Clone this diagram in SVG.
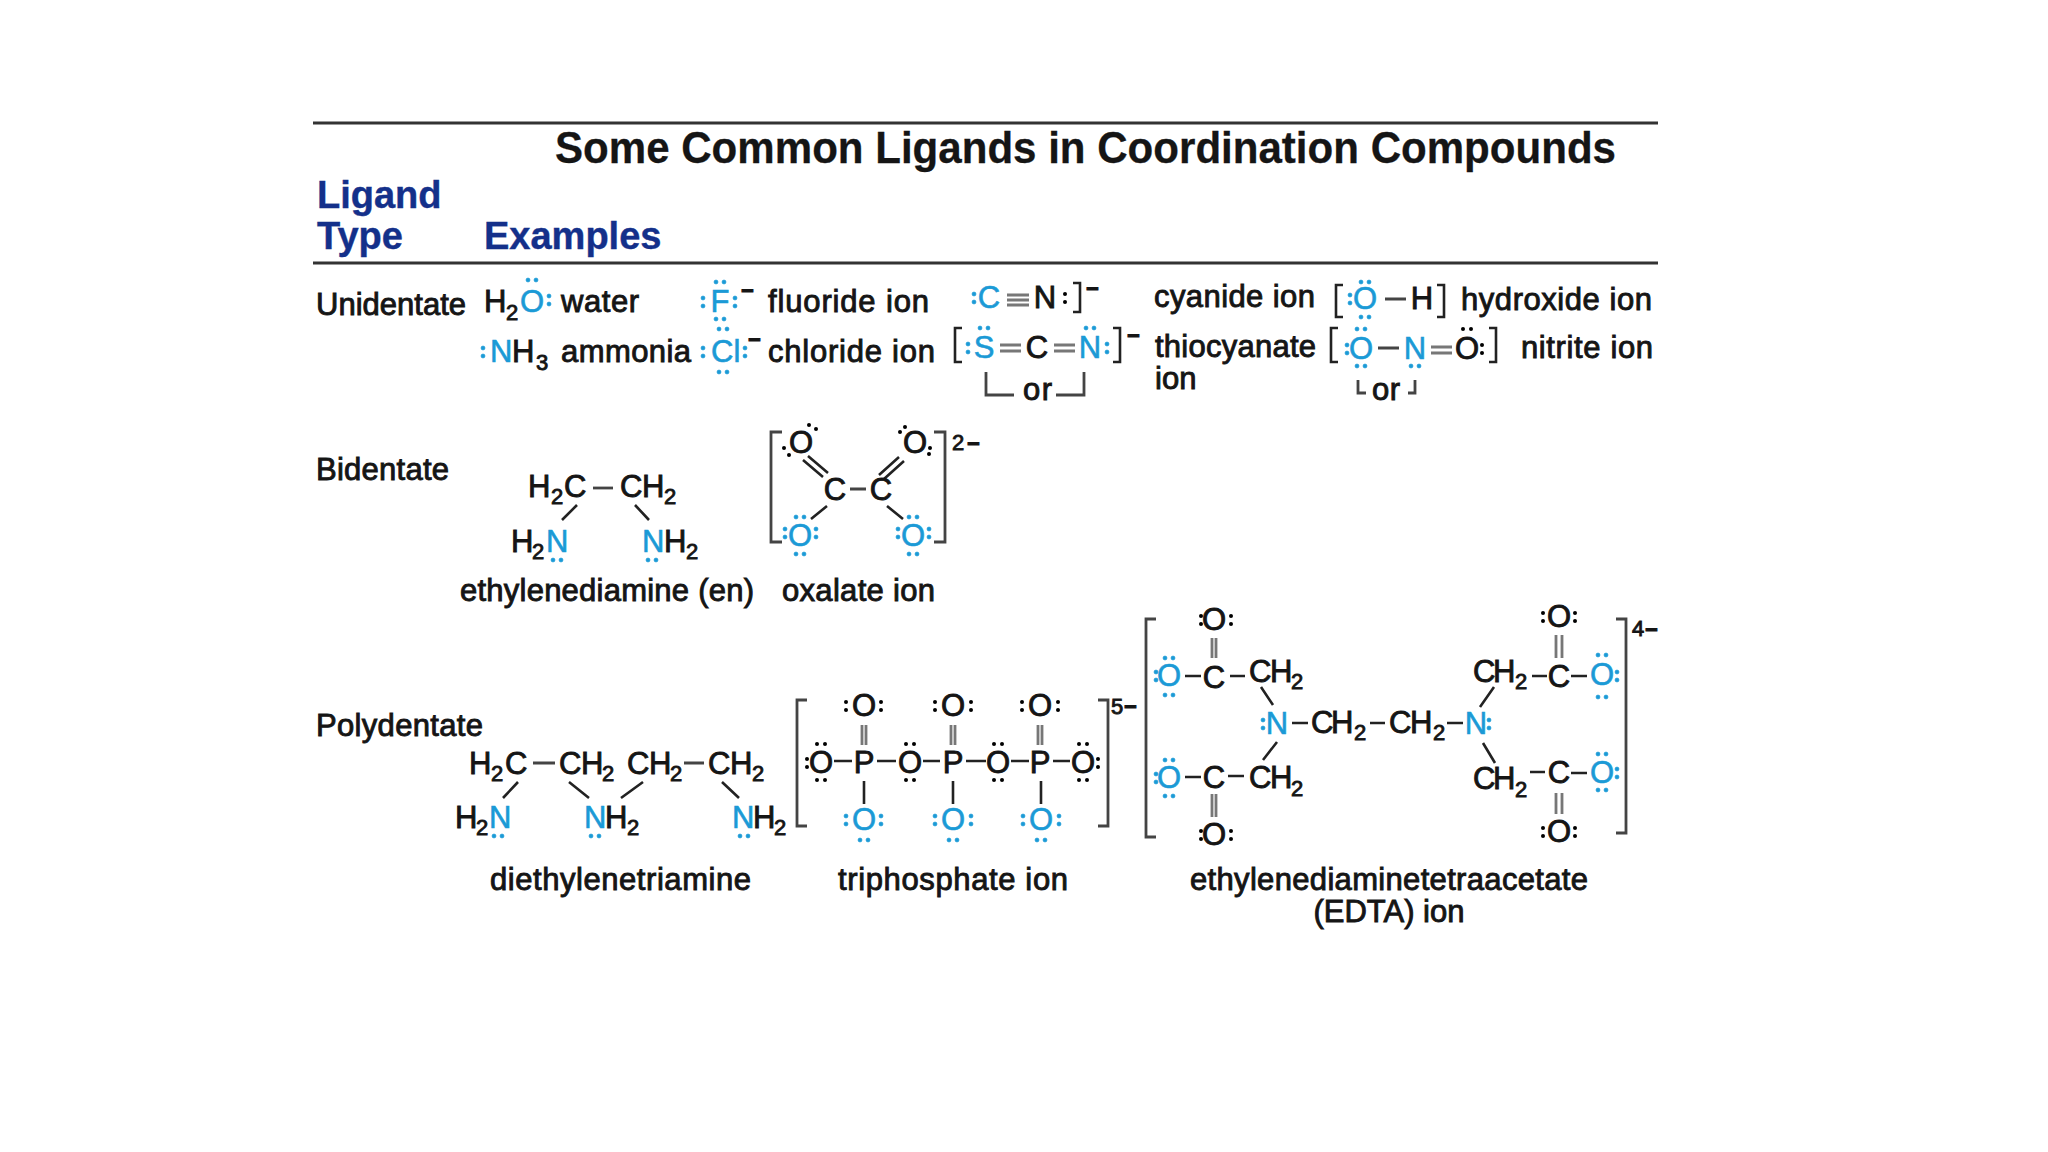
<svg xmlns="http://www.w3.org/2000/svg" width="2048" height="1152" viewBox="0 0 2048 1152">
<style>
text{font-family:"Liberation Sans",Arial,sans-serif;font-size:31px;fill:#151515;stroke:#151515;stroke-width:.9}
.b{fill:#1b9ad6;stroke:#1b9ad6;stroke-width:.6}
.s{font-size:22px}
.n{font-size:22px;font-weight:bold}
.m{text-anchor:middle}
.h{font-weight:bold;fill:#14308a;stroke:#14308a;font-size:38px;stroke-width:.4}
.tt{font-weight:bold;font-size:45px;stroke-width:.3}
.r{fill:none;stroke:#333;stroke-width:3}
.l{fill:none;stroke:#222;stroke-width:2.6}
.g{fill:none;stroke:#777;stroke-width:2.8}
.k{fill:none;stroke:#444;stroke-width:2.8}
</style>
<defs>
<g id="hp"><circle cx="-4" r="2"/><circle cx="4" r="2"/></g>
<g id="vp"><circle cy="-4" r="2"/><circle cy="4" r="2"/></g>
</defs>
<rect width="2048" height="1152" fill="#fff"/>

<g id="connectors">
<path class="r" d="M313 123H1658M313 263H1658"/>
<!-- unidentate -->
<path class="g" d="M1007 295H1029M1007 300H1029M1007 305H1029"/>
<path class="k" d="M1385 299H1406M1378 348H1399"/>
<path class="g" d="M1000 345H1021M1000 351H1021M1054 345H1075M1054 351H1075M1431 347H1452M1431 353H1452"/>
<path class="k" d="M986 372V395H1014M1056 395H1084V372M1358 380V393H1366M1408 393H1415V380"/>
<path class="l" d="M1073 283H1080V312H1073M1343 285H1336V317H1343M1437 285H1444V317H1437M962 328H955V362H962M1113 328H1120V362H1113M1338 328H1331V362H1338M1489 328H1496V362H1489"/>
<!-- en -->
<path class="k" d="M593 488H613"/>
<path class="l" d="M577 505L562 520M635 505L649 520"/>
<!-- oxalate -->
<path class="k" d="M782 432H771V542H782M934 432H945V542H934M850 489H866"/>
<path class="l" d="M808 456L828 473M803 460L823 477M899 457L879 475M904 461L884 479M827 506L811 519M887 506L903 519"/>
<!-- diethylenetriamine -->
<path class="k" d="M533 763H555M684 763H704"/>
<path class="l" d="M518 782L503 798M569 782L589 798M643 782L621 798M722 782L739 798"/>
<!-- triphosphate -->
<path class="k" d="M807 700H797V826H807M1098 700H1108V826H1098"/>
<path class="g" d="M862 725V745M866 725V745M951 725V745M955 725V745M1038 725V745M1042 725V745"/>
<path class="l" d="M834 761H852M877 761H896M923 761H940M966 761H986M1011 761H1029M1053 761H1070M864 781V804M953 781V804M1041 781V804"/>
<!-- EDTA -->
<path class="k" d="M1156 619H1146V837H1156M1616 619H1626V833H1616"/>
<path class="g" d="M1212 638V658M1216 638V658M1212 794V817M1216 794V817M1556 635V658M1562 635V658M1556 793V814M1562 793V814"/>
<path class="l" d="M1185 676H1201M1230 676H1245M1261 687L1273 705M1292 723H1308M1370 723H1385M1447 723H1463M1277 742L1263 760M1185 777H1201M1228 776H1244M1532 676H1547M1571 676H1587M1494 687L1480 707M1483 743L1495 763M1530 772H1545M1571 773H1587"/>
</g>

<g id="title">
<text class="tt" x="555" y="163" textLength="1061" lengthAdjust="spacingAndGlyphs">Some Common Ligands in Coordination Compounds</text>
<text class="h" x="317" y="208">Ligand</text>
<text class="h" x="317" y="249">Type</text>
<text class="h" x="484" y="249">Examples</text>
</g>

<g id="unidentate">
<text x="316" y="315" textLength="150">Unidentate</text>
<text x="484" y="312">H</text><text class="s" x="506" y="320">2</text>
<text class="b m" x="532" y="312">O</text><use href="#hp" x="532" y="280" class="b"/><use href="#vp" x="549" y="300" class="b"/>
<text x="561" y="312" textLength="78">water</text>
<text class="b m" x="720" y="312">F</text><use href="#hp" x="720" y="282" class="b"/><use href="#hp" x="720" y="319" class="b"/><use href="#vp" x="703" y="302" class="b"/><use href="#vp" x="735" y="302" class="b"/>
<text class="n" x="741" y="298">−</text>
<text x="768" y="312" textLength="161">fluoride ion</text>

<use href="#vp" x="974" y="298" class="b"/><text class="b m" x="989" y="308">C</text>
<text class="m" x="1045" y="308">N</text><use href="#vp" x="1065" y="298"/>
<text class="n" x="1086" y="296">−</text>
<text x="1154" y="307" textLength="161">cyanide ion</text>

<use href="#vp" x="1350" y="299" class="b"/><text class="b m" x="1365" y="309">O</text><use href="#hp" x="1365" y="282" class="b"/><use href="#hp" x="1365" y="317" class="b"/>
<text class="m" x="1422" y="309">H</text>
<text x="1461" y="310" textLength="191">hydroxide ion</text>

<use href="#vp" x="483" y="352" class="b"/><text class="b" x="490" y="362">N</text><text x="512" y="362">H</text><text class="s" x="536" y="370">3</text>
<text x="561" y="362" textLength="130">ammonia</text>
<text class="b" x="711" y="362">Cl</text><use href="#hp" x="723" y="329" class="b"/><use href="#hp" x="723" y="372" class="b"/><use href="#vp" x="703" y="352" class="b"/><use href="#vp" x="745" y="352" class="b"/>
<text class="n" x="748" y="347">−</text>
<text x="768" y="362" textLength="167">chloride ion</text>

<use href="#vp" x="968" y="348" class="b"/><text class="b m" x="984" y="358">S</text><use href="#hp" x="984" y="328" class="b"/>
<text class="m" x="1037" y="358">C</text>
<text class="b m" x="1090" y="358">N</text><use href="#hp" x="1090" y="328" class="b"/><use href="#vp" x="1107" y="348" class="b"/>
<text class="n" x="1127" y="343">−</text>
<text x="1023" y="400" textLength="29">or</text>
<text x="1155" y="357" textLength="161">thiocyanate</text>
<text x="1155" y="389">ion</text>

<use href="#vp" x="1347" y="349" class="b"/><text class="b m" x="1361" y="359">O</text><use href="#hp" x="1361" y="329" class="b"/><use href="#hp" x="1361" y="366" class="b"/>
<text class="b m" x="1415" y="359">N</text><use href="#hp" x="1415" y="366" class="b"/>
<text class="m" x="1467" y="359">O</text><use href="#hp" x="1467" y="329"/><use href="#vp" x="1482" y="349"/>
<text x="1521" y="358" textLength="132">nitrite ion</text>
<text x="1372" y="400" textLength="28">or</text>
</g>

<g id="bidentate">
<text x="316" y="480" textLength="133">Bidentate</text>
</g>

<g id="ethylenediamine">
<text x="528" y="497">H</text><text class="s" x="551" y="504">2</text><text x="564" y="497">C</text>
<text x="620" y="497">C</text><text x="642" y="497">H</text><text class="s" x="664" y="504">2</text>
<text x="511" y="552">H</text><text class="s" x="532" y="559">2</text><text class="b" x="546" y="552">N</text><use href="#hp" x="557" y="560" class="b"/>
<text class="b" x="642" y="552">N</text><text x="664" y="552">H</text><text class="s" x="686" y="559">2</text><use href="#hp" x="652" y="560" class="b"/>
<text x="460" y="601" textLength="294">ethylenediamine (en)</text>
</g>

<g id="oxalate">
<text class="m" x="801" y="453">O</text><circle cx="784" cy="448" r="2"/><circle cx="789" cy="455" r="2"/><circle cx="809" cy="425" r="2"/><circle cx="816" cy="429" r="2"/>
<text class="m" x="915" y="453">O</text><circle cx="905" cy="427" r="2"/><circle cx="900" cy="432" r="2"/><circle cx="930" cy="448" r="2"/><circle cx="929" cy="454" r="2"/>
<text class="m" x="835" y="500">C</text><text class="m" x="881" y="500">C</text>
<text class="b m" x="800" y="546">O</text><use href="#hp" x="800" y="517" class="b"/><use href="#hp" x="800" y="554" class="b"/><use href="#vp" x="785" y="533" class="b"/><use href="#vp" x="816" y="533" class="b"/>
<text class="b m" x="913" y="546">O</text><use href="#hp" x="913" y="517" class="b"/><use href="#hp" x="913" y="554" class="b"/><use href="#vp" x="898" y="533" class="b"/><use href="#vp" x="929" y="533" class="b"/>
<text class="s" x="952" y="450">2</text><text class="n" x="967" y="451">−</text>
<text x="782" y="601" textLength="153">oxalate ion</text>
</g>

<g id="polydentate">
<text x="316" y="736" textLength="167">Polydentate</text>
</g>

<g id="diethylenetriamine">
<text x="469" y="774">H</text><text class="s" x="491" y="781">2</text><text x="505" y="774">C</text>
<text x="559" y="774">C</text><text x="581" y="774">H</text><text class="s" x="602" y="781">2</text>
<text x="627" y="774">C</text><text x="649" y="774">H</text><text class="s" x="670" y="781">2</text>
<text x="708" y="774">C</text><text x="730" y="774">H</text><text class="s" x="752" y="781">2</text>
<text x="455" y="828">H</text><text class="s" x="476" y="835">2</text><text class="b" x="489" y="828">N</text><use href="#hp" x="498" y="836" class="b"/>
<text class="b" x="584" y="828">N</text><text x="605" y="828">H</text><text class="s" x="627" y="835">2</text><use href="#hp" x="595" y="836" class="b"/>
<text class="b" x="732" y="828">N</text><text x="753" y="828">H</text><text class="s" x="774" y="835">2</text><use href="#hp" x="744" y="836" class="b"/>
<text x="490" y="890" textLength="261">diethylenetriamine</text>
</g>

<g id="triphosphate">
<text class="m" x="864" y="716">O</text><use href="#vp" x="846" y="706"/><use href="#vp" x="881" y="706"/>
<text class="m" x="953" y="716">O</text><use href="#vp" x="935" y="706"/><use href="#vp" x="971" y="706"/>
<text class="m" x="1040" y="716">O</text><use href="#vp" x="1022" y="706"/><use href="#vp" x="1058" y="706"/>
<text class="m" x="821" y="773">O</text><use href="#hp" x="821" y="744"/><use href="#hp" x="821" y="780"/><use href="#vp" x="807" y="763"/>
<text class="m" x="864" y="773">P</text>
<text class="m" x="910" y="773">O</text><use href="#hp" x="910" y="744"/><use href="#hp" x="910" y="780"/>
<text class="m" x="953" y="773">P</text>
<text class="m" x="998" y="773">O</text><use href="#hp" x="998" y="744"/><use href="#hp" x="998" y="780"/>
<text class="m" x="1040" y="773">P</text>
<text class="m" x="1083" y="773">O</text><use href="#hp" x="1083" y="744"/><use href="#hp" x="1083" y="780"/><use href="#vp" x="1098" y="763"/>
<text class="b m" x="864" y="830">O</text><use href="#vp" x="846" y="820" class="b"/><use href="#vp" x="881" y="820" class="b"/><use href="#hp" x="864" y="840" class="b"/>
<text class="b m" x="953" y="830">O</text><use href="#vp" x="935" y="820" class="b"/><use href="#vp" x="971" y="820" class="b"/><use href="#hp" x="953" y="840" class="b"/>
<text class="b m" x="1041" y="830">O</text><use href="#vp" x="1023" y="820" class="b"/><use href="#vp" x="1059" y="820" class="b"/><use href="#hp" x="1041" y="840" class="b"/>
<text class="s" x="1111" y="714">5</text><text class="n" x="1124" y="714">−</text>
<text x="838" y="890" textLength="230">triphosphate ion</text>
</g>

<g id="edta">
<text class="m" x="1214" y="630">O</text><use href="#vp" x="1201" y="620"/><use href="#vp" x="1231" y="620"/>
<text class="m" x="1214" y="688">C</text>
<text class="b m" x="1169" y="686">O</text><use href="#hp" x="1169" y="658" class="b"/><use href="#hp" x="1169" y="695" class="b"/><use href="#vp" x="1156" y="676" class="b"/>
<text x="1249" y="682">C</text><text x="1270" y="682">H</text><text class="s" x="1291" y="689">2</text>
<use href="#vp" x="1263" y="724" class="b"/><text class="b m" x="1277" y="734">N</text>
<text x="1311" y="733">C</text><text x="1331" y="733">H</text><text class="s" x="1354" y="740">2</text>
<text x="1389" y="733">C</text><text x="1410" y="733">H</text><text class="s" x="1433" y="740">2</text>
<text class="b m" x="1476" y="734">N</text><use href="#vp" x="1489" y="724" class="b"/>
<text class="b m" x="1169" y="788">O</text><use href="#hp" x="1169" y="760" class="b"/><use href="#hp" x="1169" y="796" class="b"/><use href="#vp" x="1156" y="778" class="b"/>
<text class="m" x="1214" y="788">C</text>
<text x="1249" y="788">C</text><text x="1270" y="788">H</text><text class="s" x="1291" y="796">2</text>
<text class="m" x="1214" y="845">O</text><use href="#vp" x="1201" y="835"/><use href="#vp" x="1231" y="835"/>

<text class="m" x="1559" y="627">O</text><use href="#vp" x="1543" y="617"/><use href="#vp" x="1575" y="617"/>
<text class="m" x="1559" y="687">C</text>
<text x="1473" y="682">C</text><text x="1493" y="682">H</text><text class="s" x="1515" y="689">2</text>
<text class="b m" x="1602" y="685">O</text><use href="#hp" x="1602" y="655" class="b"/><use href="#hp" x="1602" y="697" class="b"/><use href="#vp" x="1617" y="676" class="b"/>
<text x="1473" y="789">C</text><text x="1493" y="789">H</text><text class="s" x="1515" y="797">2</text>
<text class="m" x="1559" y="783">C</text>
<text class="b m" x="1602" y="783">O</text><use href="#hp" x="1602" y="754" class="b"/><use href="#hp" x="1602" y="790" class="b"/><use href="#vp" x="1617" y="773" class="b"/>
<text class="m" x="1559" y="842">O</text><use href="#vp" x="1543" y="832"/><use href="#vp" x="1575" y="832"/>
<text class="s" x="1632" y="636">4</text><text class="n" x="1645" y="637">−</text>
<text x="1190" y="890" textLength="398">ethylenediaminetetraacetate</text>
<text class="m" x="1389" y="922">(EDTA) ion</text>
</g>
</svg>
